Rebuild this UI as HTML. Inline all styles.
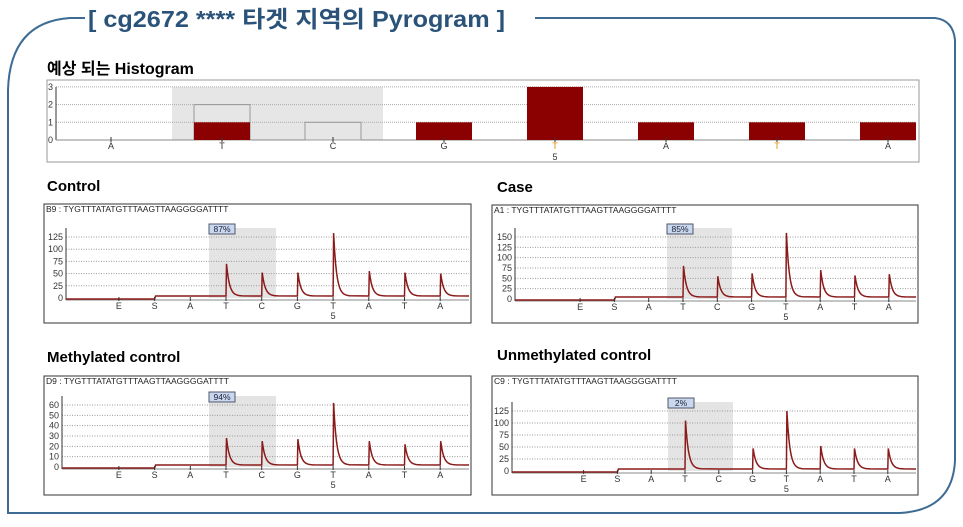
<!DOCTYPE html>
<html><head><meta charset="utf-8">
<style>
body{margin:0;background:#fff;width:963px;height:522px;overflow:hidden;font-family:"Liberation Sans","Noto Sans CJK KR",sans-serif}
svg text{font-family:"Liberation Sans","Noto Sans CJK KR",sans-serif}
</style></head><body>
<svg id="s" width="963" height="522" viewBox="0 0 963 522" xmlns="http://www.w3.org/2000/svg">
<path d="M85 18 L70 18 Q10 22 8 90 L8 513 L900 513 Q953 510 955 460 L955 40 Q953 20 935 18 L535 18" fill="none" stroke="#3d6b94" stroke-width="2"/>
<text x="88" y="27" font-size="23" font-weight="bold" fill="#2b5379" textLength="417" lengthAdjust="spacingAndGlyphs">[ cg2672 **** 타겟 지역의 Pyrogram ]</text>
<text x="47" y="74" font-size="16" font-weight="bold" fill="#000">예상 되는 Histogram</text>
<text x="47" y="191" font-size="15" font-weight="bold">Control</text>
<text x="497" y="192" font-size="15" font-weight="bold">Case</text>
<text x="47" y="362" font-size="15" font-weight="bold">Methylated control</text>
<text x="497" y="360" font-size="15" font-weight="bold">Unmethylated control</text>
<g id="g"></g>
</svg>
<script>
// Histogram data
const histCats=["A","T","C","G","T","A","T","A"];
const histVals=[0,1,0,1,3,1,1,1];
const histGhost=[0,2,1,0,0,0,0,0];
const histTicks=[0,1,2,3];
// Pyrogram data
const disp=["E","S","A","T","C","G","T","A","T","A"];
const ctrlVals=[0,3,0,70,52,52,133,55,52,50];
const caseVals=[0,3,0,80,55,62,160,70,57,60];
const methVals=[0,3,0,28,25,27,62,25,22,25];
const unmethVals=[0,3,0,105,0,47,125,52,47,47];
const ctrlTicks=[0,25,50,75,100,125];
const caseTicks=[0,25,50,75,100,125,150];
const methTicks=[0,10,20,30,40,50,60];
const unmethTicks=[0,25,50,75,100,125];

const NS="http://www.w3.org/2000/svg";
const G=document.getElementById('g');
function el(t,a,p){const e=document.createElementNS(NS,t);for(const k in a)e.setAttribute(k,a[k]);(p||G).appendChild(e);return e;}
function tx(x,y,s,a,p){const e=el('text',Object.assign({x:x,y:y},a),p);e.textContent=s;return e;}

// Histogram
(function(){
  const g=el('g',{});
  
  
  el('rect',{x:47,y:80,width:872,height:82,fill:'#fff',stroke:'#999'},g);
  const x0=56,y0=140,unit=17.7,step=111,first=111;
  const X=i=>first+i*step, Y=v=>y0-v*unit;
  el('rect',{x:X(1)-50,y:Y(3),width:211,height:y0-Y(3),fill:'#e6e6e6'},g);
  histTicks.forEach(t=>{
    if(t>0){el('line',{x1:x0,x2:916,y1:Y(t),y2:Y(t),stroke:'#aaa','stroke-dasharray':'1,1'},g);}
    const lb=tx(x0-3,Y(t)+3,String(t),{'font-size':9,'text-anchor':'end',fill:'#333'},g);
    
    
  });
  el('line',{x1:x0,x2:x0,y1:Y(3),y2:y0,stroke:'#333'},g);
  el('line',{x1:x0,x2:916,y1:y0,y2:y0,stroke:'#888'},g);
  histCats.forEach((c,i)=>{
    if(histGhost[i]>0){
      const r=el('rect',{x:X(i)-28,y:Y(histGhost[i]),width:56,height:y0-Y(histGhost[i]),fill:'none',stroke:'#999'},g);
      
      
    }
    if(histVals[i]>0){
      const r=el('rect',{x:X(i)-28,y:Y(histVals[i]),width:56,height:y0-Y(histVals[i]),fill:'#8b0000'},g);
      
      
    }
    el('line',{x1:X(i),x2:X(i),y1:y0-3,y2:y0+2,stroke:'#333'},g);
    const lb=tx(X(i),y0+9,c,{'font-size':9,'text-anchor':'middle',fill:(i==4||i==6)?'#e08a00':'#333'},g);
    
    
  });
  tx(X(4),y0+20,'5',{'font-size':9,'text-anchor':'middle',fill:'#333'},g);
})();

function pyro(o){
  const g=el('g',{});
  
  
  el('rect',{x:o.bx,y:o.by,width:o.bw,height:o.bh,fill:'#fff',stroke:'#333'},g);
  tx(o.bx+2,o.by+8,o.id+' : TYGTTTATATGTTTAAGTTAAGGGGATTTT',{'font-size':8.5,fill:'#222'},g);
  const top=o.ticks[o.ticks.length-1];
  const Y=v=>o.y0-(v/top)*(o.y0-o.ytop);
  const X=i=>o.tx+(i-3)*o.dx;
  const left=o.ax, right=o.bx+o.bw-2;
  el('rect',{x:o.gx,y:o.ytop-9,width:o.gw,height:o.y0-o.ytop+9,fill:'#e4e4e4'},g);
  const b=el('rect',{x:o.gx,y:o.ytop-13,width:26,height:10,fill:'#c8d8f0',stroke:'#556'},g);
  
  
  tx(o.gx+13,o.ytop-5,o.pct,{'font-size':8.5,'text-anchor':'middle',fill:'#223'},g);
  o.ticks.forEach(t=>{
    if(t>0)el('line',{x1:left,x2:right,y1:Y(t),y2:Y(t),stroke:'#999','stroke-dasharray':'1,1.5'},g);
    tx(left-3,Y(t)+3,String(t),{'font-size':9,'text-anchor':'end',fill:'#333'},g);
  });
  el('line',{x1:left,x2:left,y1:o.ytop-9,y2:o.y0+2,stroke:'#333'},g);
  el('line',{x1:left,x2:right,y1:o.y0+2,y2:o.y0+2,stroke:'#888'},g);
  let d='M'+left+' '+(o.y0+1);
  let base=1;
  o.vals.forEach((v,i)=>{
    const x=X(i);
    d+=' L'+x+' '+(Y(0)+base);
    if(i==1){base=-2;d+=' L'+(x+1)+' '+(Y(0)+base);return;}
    if(v>5){
      d+=' L'+(x+0.5)+' '+Y(v);
      for(let k=1;k<=16;k++){const vv=v*Math.exp(-k/3);d+=' L'+(x+0.5+k)+' '+(Y(vv)+base*(1-Math.exp(-k/3)));}
    }
  });
  d+=' L'+right+' '+(Y(0)+base);
  const p=el('path',{d:d,fill:'none',stroke:'#8b1a1a','stroke-width':1.5},g);
  
  
  disp.forEach((c,i)=>{
    el('line',{x1:X(i),x2:X(i),y1:o.y0-1,y2:o.y0+3,stroke:'#333'},g);
    const lb=tx(X(i),o.y0+11,c,{'font-size':9,'text-anchor':'middle',fill:'#333'},g);
    
    
  });
  tx(X(6),o.y0+21,'5',{'font-size':9,'text-anchor':'middle',fill:'#333'},g);
}
pyro({name:'control-pyrogram',id:'B9',pct:'87%',bx:44,by:204,bw:427,bh:119,ax:66,y0:298,ytop:237,ticks:ctrlTicks,vals:ctrlVals,tx:226,dx:35.7,gx:209,gw:67});
pyro({name:'case-pyrogram',id:'A1',pct:'85%',bx:492,by:205,bw:426,bh:118,ax:515,y0:299,ytop:237,ticks:caseTicks,vals:caseVals,tx:683,dx:34.3,gx:667,gw:65});
pyro({name:'methylated-pyrogram',id:'D9',pct:'94%',bx:44,by:376,bw:427,bh:119,ax:62,y0:467,ytop:405,ticks:methTicks,vals:methVals,tx:226,dx:35.7,gx:209,gw:67});
pyro({name:'unmethylated-pyrogram',id:'C9',pct:'2%',bx:492,by:376,bw:426,bh:119,ax:512,y0:471,ytop:411,ticks:unmethTicks,vals:unmethVals,tx:685,dx:33.8,gx:668,gw:65});
</script>
</body></html>
